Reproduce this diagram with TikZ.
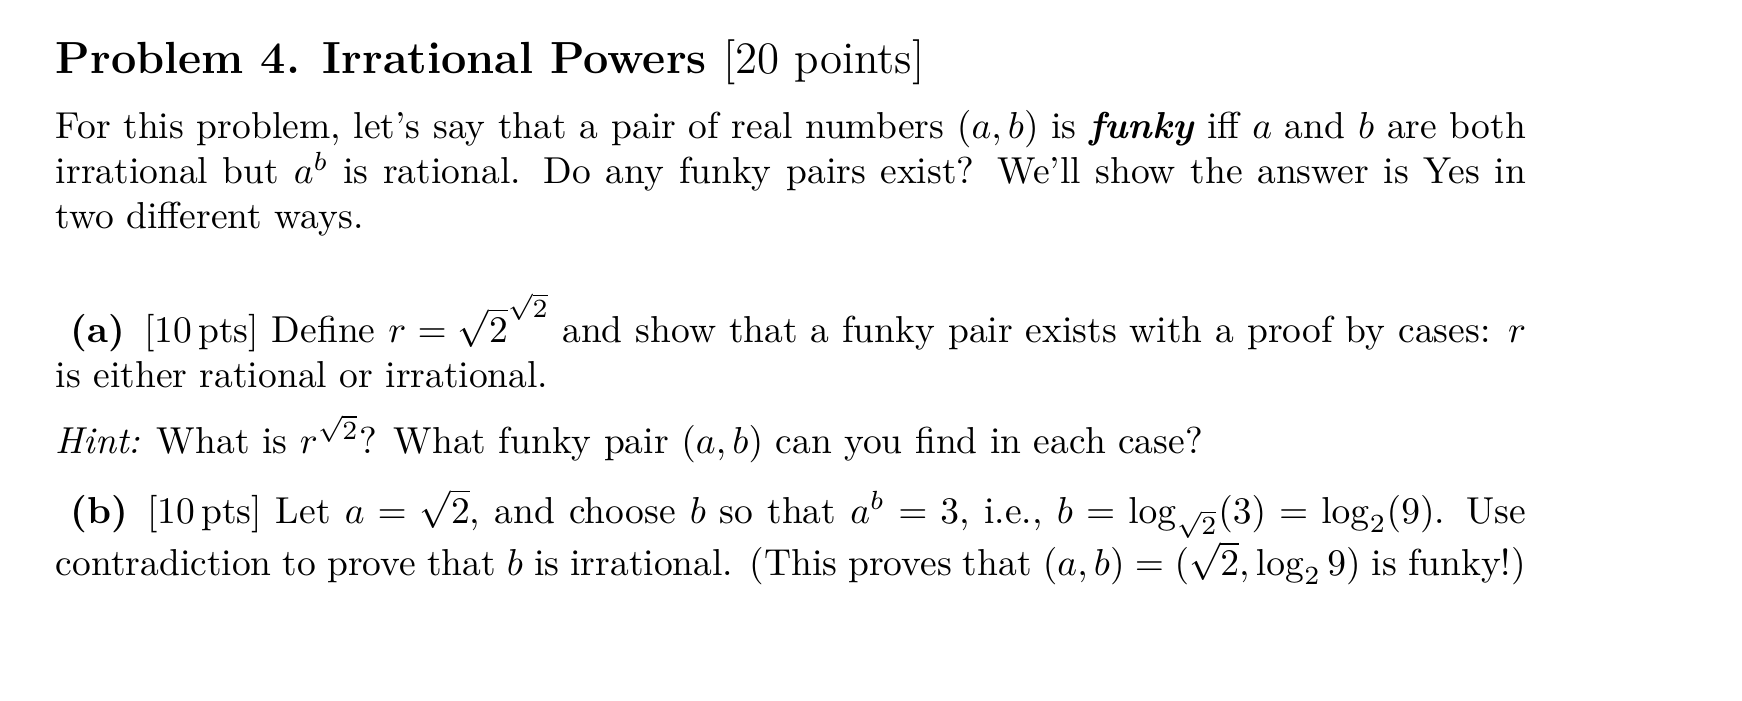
\documentclass[tikz,border=0pt]{standalone}
\usepackage{amsmath}
\begin{document}
\begin{tikzpicture}[x=1pt,y=1pt,
  para/.style={anchor=north west,inner sep=0pt,text width=392pt,align=justify,font=\normalsize}]
\useasboundingbox (0,0) rectangle (464.5,-186.7);
\node[anchor=base west,inner sep=0pt] (title) at (14.7,-19.5) {\large\bfseries Problem 4. Irrational Powers \normalfont\large[20 points]};
\node[para] (p1) at (14.7,-29.3) {For this problem, let's say that a pair of real numbers $(a,b)$ is \textbf{\textit{funky}} iff $a$ and $b$ are both irrational but $a^b$ is rational. Do any funky pairs exist? We'll show the answer is Yes in\linebreak two different ways.};
\node[para] (pa) at (14.7,-78) {\hspace*{4pt}\textbf{(a)}\enspace[10\,pts] Define $r=\sqrt{2}^{\sqrt{2}}$ and show that a funky pair exists with a proof by cases: $r$ is either rational or irrational.};
\node[para] (hint) at (14.7,-110.5) {\textit{Hint:} What is $r^{\sqrt{2}}$? What funky pair $(a,b)$ can you find in each case?};
\node[para] (pb) at (14.7,-130.3) {\hspace*{4pt}\textbf{(b)}\enspace[10\,pts] Let $a=\sqrt{2}$, and choose $b$ so that $a^b=3$, i.e., $b=\log_{\sqrt{2}}(3)=\log_2(9)$. Use contradiction to prove that $b$ is irrational. (This proves that $(a,b)=(\sqrt{2},\log_2 9)$ is funky!)};
\end{tikzpicture}
\end{document}
